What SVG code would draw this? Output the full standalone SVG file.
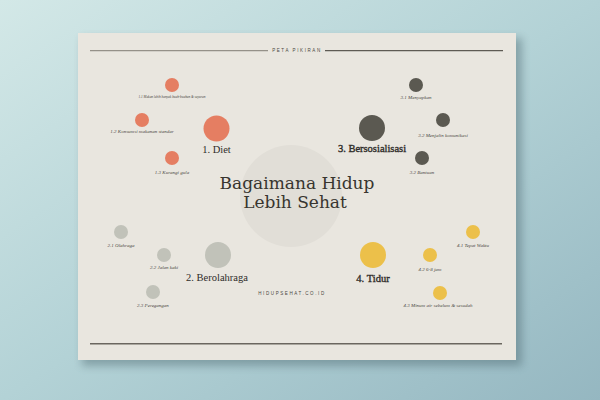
<svg xmlns="http://www.w3.org/2000/svg" width="600" height="400" viewBox="0 0 600 400">
<defs>
<linearGradient id="bg" x1="0" y1="0" x2="1" y2="1">
<stop offset="0" stop-color="#d3e8e7"/>
<stop offset="0.5" stop-color="#b3d2d6"/>
<stop offset="1" stop-color="#95b7c1"/>
</linearGradient>
<filter id="sh" x="-10%" y="-10%" width="120%" height="130%">
<feGaussianBlur stdDeviation="4"/>
</filter>
<style>
.lbl{font-family:"Liberation Serif","DejaVu Serif",serif;font-style:italic;font-size:5px;fill:#4a4742;text-anchor:middle}
.main{font-family:"Liberation Serif","DejaVu Serif",serif;font-size:10.5px;fill:#2f2c29;text-anchor:middle}
.strong{stroke:#2f2c29;stroke-width:0.35px}
.title{font-family:"DejaVu Serif","Liberation Serif",serif;font-size:17px;fill:#38352f;text-anchor:middle}
.cap{font-family:"Liberation Sans","DejaVu Sans",sans-serif;font-size:4.5px;letter-spacing:1.6px;fill:#4a4742;text-anchor:middle}
.diet{fill:#e57e62}.sos{fill:#5b5951}.ola{fill:#c1c2b9}.tid{fill:#ecc04a}
</style>
</defs>
<rect width="600" height="400" fill="url(#bg)"/>
<rect x="82" y="38" width="440" height="328" fill="#4d6770" opacity="0.45" filter="url(#sh)"/>
<rect x="78" y="33" width="438" height="327" fill="#e9e6df"/>
<g id="header">
<line x1="90" y1="50.7" x2="268" y2="50.7" stroke="#959189" stroke-width="1.3"/>
<line x1="325" y1="50.7" x2="503" y2="50.7" stroke="#5e5b54" stroke-width="1.3"/>
<text class="cap" x="297" y="52.3">PETA PIKIRAN</text>
</g>
<line x1="90" y1="343.7" x2="502" y2="343.7" stroke="#6a665f" stroke-width="1.5"/>
<g id="center">
<circle cx="291" cy="196" r="51" fill="#e1ded7"/>
<text class="title" x="297" y="189">Bagaimana Hidup</text>
<text class="title" x="295" y="208">Lebih Sehat</text>
</g>
<g id="connectors"></g>
<g id="diet">
<circle class="diet" cx="216.5" cy="128.5" r="13"/>
<text class="main" x="216.5" y="153">1. Diet</text>
</g>
<g id="diet-1"><circle class="diet" cx="172" cy="85" r="7"/><text class="lbl" x="172" y="98" style="font-size:3.4px">1.1 Makan lebih banyak buah-buahan &amp; sayuran</text></g>
<g id="diet-2"><circle class="diet" cx="142" cy="120" r="7"/><text class="lbl" x="142" y="133">1.2 Konsumsi makanan standar</text></g>
<g id="diet-3"><circle class="diet" cx="172" cy="158" r="7"/><text class="lbl" x="172" y="174">1.3 Kurangi gula</text></g>
<g id="sosial">
<circle class="sos" cx="372" cy="128" r="13"/>
<text class="main strong" x="372" y="152">3. Bersosialisasi</text>
</g>
<g id="sosial-1"><circle class="sos" cx="416" cy="85" r="7"/><text class="lbl" x="416" y="99">3.1 Menyapkan</text></g>
<g id="sosial-2"><circle class="sos" cx="443" cy="120" r="7"/><text class="lbl" x="443" y="137">3.2 Menjalin komunikasi</text></g>
<g id="sosial-3"><circle class="sos" cx="422" cy="158" r="7"/><text class="lbl" x="422" y="174">3.2 Bantuan</text></g>
<g id="olahraga">
<circle class="ola" cx="218" cy="255" r="13"/>
<text class="main" x="217" y="281">2. Berolahraga</text>
</g>
<g id="olahraga-1"><circle class="ola" cx="121" cy="232" r="7"/><text class="lbl" x="121" y="247">2.1 Olahraga</text></g>
<g id="olahraga-2"><circle class="ola" cx="164" cy="255" r="7"/><text class="lbl" x="164" y="269">2.2 Jalan kaki</text></g>
<g id="olahraga-3"><circle class="ola" cx="153" cy="292" r="7"/><text class="lbl" x="153" y="307">2.3 Peregangan</text></g>
<g id="tidur">
<circle class="tid" cx="373" cy="255" r="13"/>
<text class="main strong" x="373" y="282">4. Tidur</text>
</g>
<g id="tidur-1"><circle class="tid" cx="473" cy="232" r="7"/><text class="lbl" x="473" y="247">4.1 Tepat Waktu</text></g>
<g id="tidur-2"><circle class="tid" cx="430" cy="255" r="7"/><text class="lbl" x="430" y="271">4.2 6-8 jam</text></g>
<g id="tidur-3"><circle class="tid" cx="440" cy="293" r="7"/><text class="lbl" x="438" y="307">4.3 Minum air sebelum &amp; sesudah</text></g>
<text class="cap" x="292" y="294.5">HIDUPSEHAT.CO.ID</text>
</svg>
